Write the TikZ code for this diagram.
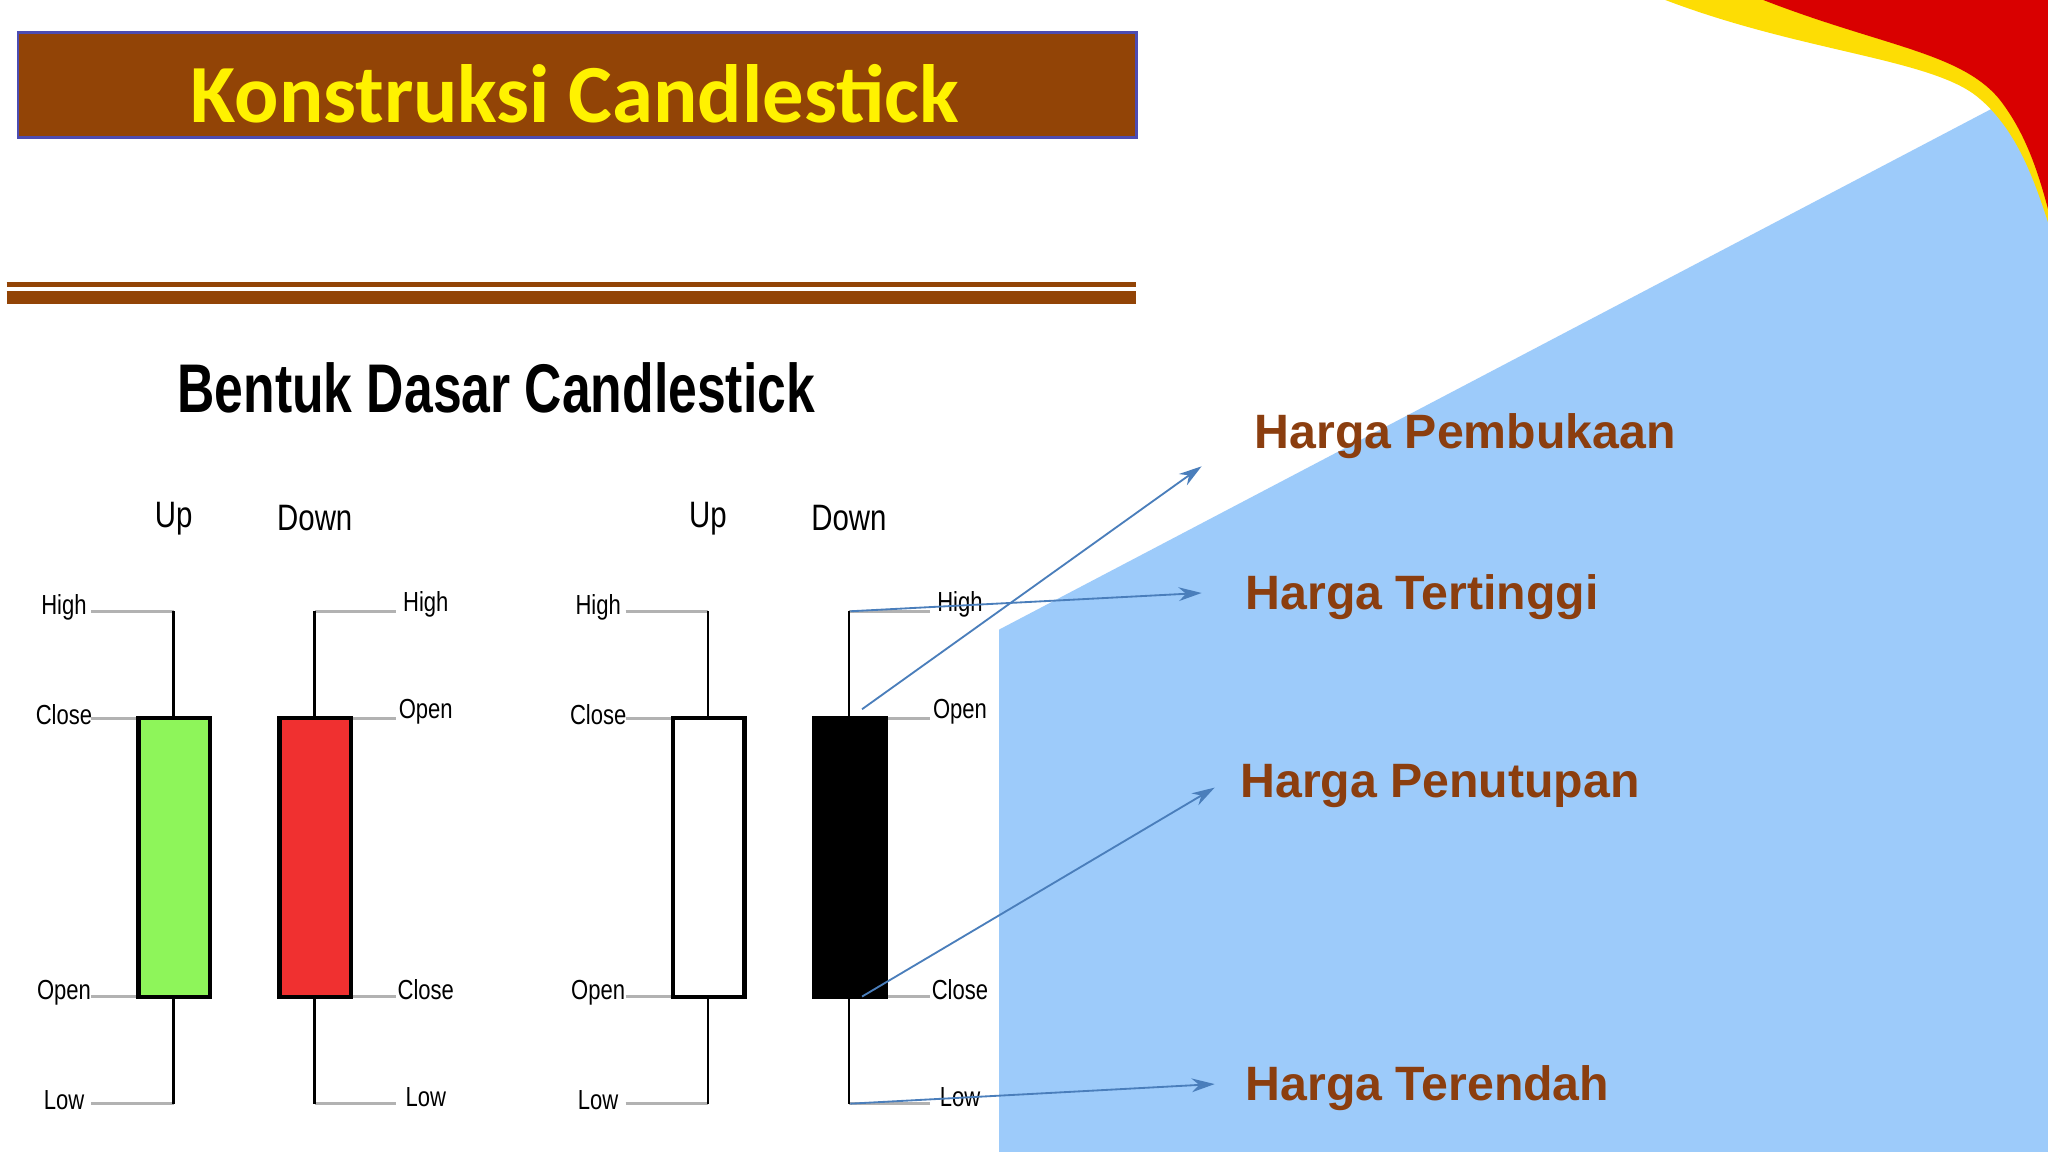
\documentclass[tikz,border=0pt]{standalone}
\usepackage{fontspec}
\setmainfont{Liberation Sans}
\newfontfamily\carl{Carlito}
\usetikzlibrary{arrows.meta}
\definecolor{brn}{HTML}{924406}
\definecolor{lbl}{HTML}{8B3E0F}
\definecolor{sky}{HTML}{9DCBFA}
\definecolor{arr}{HTML}{4A7EBB}
\definecolor{cgr}{HTML}{8EF55A}
\definecolor{crd}{HTML}{F03030}
\tikzset{
 lab/.style={font=\fontsize{6}{7}\selectfont, inner sep=0pt},
 gl/.style={draw=gray!60, line width=0.7pt},
 wick/.style={draw=black, line width=0.6pt},
 body/.style={draw=black, line width=0.9pt},
 hl/.style={font=\bfseries\fontsize{10.5}{12}\selectfont, text=lbl, anchor=west, inner sep=0pt},
 ar/.style={draw=arr, line width=0.4pt, -{Stealth[length=5pt,width=3pt]}}
}
\begin{document}
\begin{tikzpicture}[x=0.01cm,y=-0.01cm]
\useasboundingbox (0,0) rectangle (1568,882);
\fill[white] (0,0) rectangle (1568,882);
% blue region
\fill[sky] (765,482) -- (1535,78) -- (1568,140) -- (1568,882) -- (765,882) -- cycle;
% swoosh
\fill[yellow!80!orange] (1275,0) .. controls (1380,40) and (1480,45) .. (1515,75) .. controls (1545,100) and (1558,140) .. (1568,170) -- (1568,0) -- cycle;
\fill[red!85!black] (1350,0) .. controls (1440,35) and (1500,40) .. (1530,75) .. controls (1550,100) and (1560,130) .. (1568,160) -- (1568,0) -- cycle;
% title
\node[draw=gray!60!blue, line width=0.6pt, fill=brn, minimum width=8.56cm, minimum height=0.8cm, inner sep=0pt] (title) at (442,65) {};
\node[font=\carl\bfseries\fontsize{18}{22}\selectfont, text=yellow] (tt) at (440,72) {Konstruksi Candlestick};
\draw[brn, line width=1.2pt] (5,218) -- (870,218);
\draw[brn, line width=2.8pt] (5,228) -- (870,228);
\node[font=\bfseries\fontsize{15}{18}\selectfont] (sub) at (380,297) {\scalebox{0.75}[1]{Bentuk Dasar Candlestick}};
% candles
\foreach \o/\uc/\dc in {0/cgr/crd, 409/white/black}{
 \begin{scope}[xshift=\o*0.01cm]
  \node[lab] at (133,397) {\scalebox{0.8}[1]{\fontsize{8}{10}\selectfont Up}};
  \node[lab] at (241,397) {\scalebox{0.8}[1]{\fontsize{8}{10}\selectfont Down}};
  \foreach \y/\t in {468/High,550/Close,763/Open,845/Low}{
   \draw[gl] (70,\y) -- (133,\y);
   \node[lab] at (49,\y-3) {\scalebox{0.8}[1]{\t}};}
  \foreach \y/\t in {468/High,550/Open,763/Close,845/Low}{
   \draw[gl] (241,\y) -- (303,\y);
   \node[lab] at (326,\y-5) {\scalebox{0.8}[1]{\t}};}
  \draw[wick] (133,468) -- (133,845);
  \draw[wick] (241,468) -- (241,845);
  \filldraw[body, fill=\uc] (106,550) rectangle (161,763);
  \filldraw[body, fill=\dc] (214,550) rectangle (269,763);
 \end{scope}}
% labels
\node[hl] (hp) at (960,334) {Harga Pembukaan};
\node[hl] (ht) at (953,457) {Harga Tertinggi};
\node[hl] (hc) at (949,602) {Harga Penutupan};
\node[hl] (hr) at (953,833) {Harga Terendah};
\coordinate (a1) at (660,543); \coordinate (b1) at (920,357);
\coordinate (a2) at (651,468); \coordinate (b2) at (920,454);
\coordinate (a3) at (660,763); \coordinate (b3) at (930,603);
\coordinate (a4) at (651,845); \coordinate (b4) at (930,830);
\draw[ar] (a1) -- (b1); \draw[ar] (a2) -- (b2);
\draw[ar] (a3) -- (b3); \draw[ar] (a4) -- (b4);
\end{tikzpicture}
\end{document}
